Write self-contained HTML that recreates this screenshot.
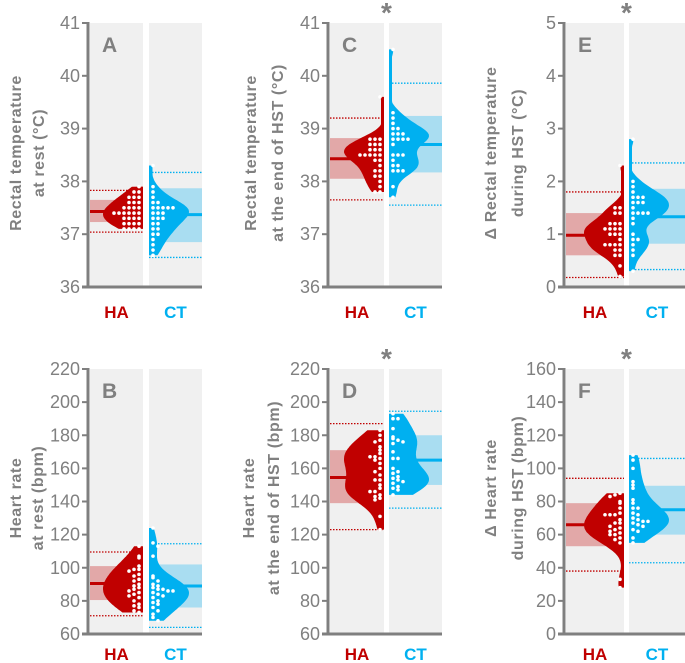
<!DOCTYPE html>
<html><head><meta charset="utf-8">
<style>
html,body{margin:0;padding:0;background:#fff;}
svg{display:block;font-family:"Liberation Sans",sans-serif;}
</style></head>
<body>
<svg id="chart" width="685" height="663" viewBox="0 0 685 663" xmlns="http://www.w3.org/2000/svg"></svg>
<script>
// ---- data ----
const haA=[37.9,37.8,37.8,37.7,37.7,37.7,37.6,37.6,37.6,37.5,37.5,37.5,37.5,37.4,37.4,37.4,37.4,37.4,37.4,37.3,37.3,37.3,37.3,37.2,37.2,37.2,37.2,37.1,37.1,37.1,37.1];
const ctA=[38.3,37.9,37.8,37.7,37.6,37.6,37.5,37.5,37.5,37.5,37.5,37.4,37.4,37.4,37.3,37.3,37.3,37.2,37.2,37.1,37.1,37.0,37.0,36.9,36.8,36.7,36.6];
const haC=[39.6,38.8,38.8,38.8,38.7,38.7,38.7,38.6,38.6,38.6,38.5,38.5,38.5,38.5,38.5,38.4,38.4,38.3,38.2,38.2,38.1,38.1,38.0,37.9,37.8,37.8];
const ctC=[40.5,39.3,39.2,39.1,39.0,39.0,38.9,38.9,38.9,38.8,38.8,38.8,38.8,38.7,38.5,38.5,38.5,38.4,38.3,38.3,38.2,38.2,38.2,37.9,37.7];
const haE=[2.3,1.5,1.5,1.4,1.4,1.2,1.2,1.2,1.1,1.1,1.1,1.1,1.0,1.0,1.0,0.9,0.8,0.8,0.8,0.8,0.7,0.7,0.6,0.6,0.4,0.2];
const ctE=[2.8,2.0,1.9,1.8,1.7,1.7,1.7,1.6,1.6,1.6,1.5,1.4,1.4,1.4,1.4,1.3,1.2,1.0,0.9,0.9,0.8,0.7,0.6,0.3];
const haB=[113,107,106,101,99,99,98,96,95,93,92,90,89,88,87,86,85,84,83,82,80,78,77,76,74,73];
const ctB=[124,115,113,107,95,94,92,90,89,88,87,87,86,86,85,84,83,82,80,79,78,76,74,72,70,68];
const haD=[183,180,177,176,173,171,169,167,167,166,165,163,160,158,156,153,153,150,148,146,146,144,143,142,141,131,123];
const ctD=[193,190,190,184,179,178,177,176,175,170,166,166,160,158,157,155,154,153,152,151,149,148,147,144];
const haF=[85,84,83,80,79,76,73,72,72,72,69,67,67,65,64,63,62,61,60,60,58,57,55,33,28];
const ctF=[108,105,100,92,90,88,81,79,76,76,73,72,70,69,68,68,67,66,65,63,62,58,55];
// stats: [mean, sdLow, sdHigh, rangeLow, rangeHigh]
const haStatsA=[37.43,37.23,37.65,37.04,37.83], ctStatsA=[37.37,36.85,37.87,36.56,38.17];
const haStatsC=[38.43,38.05,38.82,37.65,39.2], ctStatsC=[38.7,38.17,39.24,37.55,39.86];
const haStatsE=[0.98,0.6,1.4,0.18,1.8], ctStatsE=[1.33,0.82,1.86,0.33,2.35];
const haStatsB=[90.5,80.5,101,71,109.5], ctStatsB=[89,76,102,64,114.5];
const haStatsD=[154.5,139,171,123,187], ctStatsD=[165,150,180,136,194.5];
const haStatsF=[66,53,79,38,94], ctStatsF=[75,60,89.5,43,106];
const ticksTemp=[36,37,38,39,40,41];
const ticksDelta=[0,1,2,3,4,5];
const ticksHR=[60,80,100,120,140,160,180,200,220];
const ticksDHR=[0,20,40,60,80,100,120,140,160];

const NS="http://www.w3.org/2000/svg";
const svg=document.getElementById('chart');
function mk(tag,attrs,parent){const e=document.createElementNS(NS,tag);for(const k in attrs)e.setAttribute(k,attrs[k]);(parent||svg).appendChild(e);return e;}
const GREY="#808080", RED="#c00000", BLUE="#00b0f0";

const panels=[
 {id:'a',letter:'A',ax:88,ha:[90,143],ct:[149,202],y0:287,y1:23,ticks:ticksTemp,hv:haA,cv:ctA,hs:haStatsA,cs:ctStatsA,bin:0.1,bw:0.16,t1:'Rectal temperature',t2:'at rest  (°C)',tx:[15,38],ty:153,star:false,lab:313},
 {id:'c',letter:'C',ax:328,ha:[330,384],ct:[389,442],y0:287,y1:23,ticks:ticksTemp,hv:haC,cv:ctC,hs:haStatsC,cs:ctStatsC,bin:0.1,bw:0.16,t1:'Rectal temperature',t2:'at the end of HST  (°C)',tx:[250,277],ty:153,star:true,lab:313},
 {id:'e',letter:'E',ax:564,ha:[566,624],ct:[629,685],y0:287,y1:23,ticks:ticksDelta,hv:haE,cv:ctE,hs:haStatsE,cs:ctStatsE,bin:0.1,bw:0.16,t1:'Δ Rectal temperature',t2:'during HST (°C)',tx:[490,517],ty:153,star:true,lab:313},
 {id:'b',letter:'B',ax:88,ha:[90,143],ct:[149,202],y0:634,y1:369,ticks:ticksHR,hv:haB,cv:ctB,hs:haStatsB,cs:ctStatsB,bin:3,bw:7,t1:'Heart rate',t2:'at rest  (bpm)',tx:[15,37],ty:498,star:false,lab:655},
 {id:'d',letter:'D',ax:328,ha:[330,384],ct:[389,442],y0:634,y1:369,ticks:ticksHR,hv:haD,cv:ctD,hs:haStatsD,cs:ctStatsD,bin:3,bw:7,t1:'Heart rate',t2:'at the end of HST (bpm)',tx:[248,273],ty:498,star:true,lab:655},
 {id:'f',letter:'F',ax:564,ha:[566,624],ct:[629,685],y0:634,y1:369,ticks:ticksDHR,hv:haF,cv:ctF,hs:haStatsF,cs:ctStatsF,bin:3,bw:7,t1:'Δ Heart rate',t2:'during HST (bpm)',tx:[490,517],ty:488,star:true,lab:655}
];

function kde(vals,bw,v){let s=0;for(const x of vals){const z=(v-x)/bw;s+=Math.exp(-0.5*z*z);}return s;}

panels.forEach(p=>{
  const g=mk('g',{});
  
  
  const lo=p.ticks[0], hi=p.ticks[p.ticks.length-1];
  const Y=v=>p.y0+(v-lo)/(hi-lo)*(p.y1-p.y0);
  const bh=mk('rect',{x:p.ha[0],y:p.y1,width:p.ha[1]-p.ha[0],height:p.y0-p.y1,fill:'#f0f0f0'},g);
  
  
  const bc=mk('rect',{x:p.ct[0],y:p.y1,width:p.ct[1]-p.ct[0],height:p.y0-p.y1,fill:'#f0f0f0'},g);
  
  
  [['ha',p.ha,p.hs,p.hv,RED,'#e2a8a8',-1],['ct',p.ct,p.cs,p.cv,BLUE,'#a9ddf1',1]].forEach(([nm,col,st,vals,c,band,dir])=>{
    const sd=mk('rect',{x:col[0],y:Y(st[2]),width:col[1]-col[0],height:Y(st[1])-Y(st[2]),fill:band},g);
    
    
    [st[3],st[4]].forEach((r,i)=>{
      const l=mk('line',{x1:col[0],x2:col[1],y1:Y(r),y2:Y(r),stroke:c,'stroke-width':1.3,'stroke-dasharray':'1.5,1.5'},g);
      
      
    });
    const m=mk('line',{x1:col[0],x2:col[1],y1:Y(st[0]),y2:Y(st[0]),stroke:c,'stroke-width':3},g);
    
    
    const vmin=Math.min(...vals), vmax=Math.max(...vals);
    const N=80; const dens=[]; let dmax=0;
    for(let i=0;i<=N;i++){const v=vmin+(vmax-vmin)*i/N;const d=kde(vals,p.bw,v);dens.push([v,d]);if(d>dmax)dmax=d;}
    const maxW=40;
    const edge=dir<0?col[1]:col[0];
    let d='M'+edge+','+Y(vmin);
    dens.forEach(([v,dd])=>{d+=' L'+(edge+dir*Math.max(3,dd/dmax*maxW)).toFixed(1)+','+Y(v).toFixed(1);});
    d+=' L'+edge+','+Y(vmax)+' Z';
    const vp=mk('path',{d:d,fill:c},g);
    
    
    const counts={};
    vals.forEach(v=>{
      const k=Math.round(v/p.bin);
      const n=counts[k]||0; counts[k]=n+1;
      const cx=edge+dir*(4+n*5);
      const dot=mk('circle',{cx:cx,cy:Y(v),r:1.8,fill:'#fff'},g);
      
      
    });
    const lb=mk('text',{x:(col[0]+col[1])/2,y:p.lab+5,'text-anchor':'middle','font-size':17,'font-weight':'bold',fill:c},g);
    lb.textContent=nm.toUpperCase();
    
    
  });
  const ya=mk('line',{x1:p.ax,x2:p.ax,y1:p.y1-1,y2:p.y0+1,stroke:'#7f7f7f','stroke-width':3},g);
  
  
  const xa=mk('line',{x1:p.ax-6,x2:p.ct[1],y1:p.y0,y2:p.y0,stroke:'#7f7f7f','stroke-width':3},g);
  
  
  p.ticks.forEach(t=>{
    const tk=mk('line',{x1:p.ax-6,x2:p.ax,y1:Y(t),y2:Y(t),stroke:'#7f7f7f','stroke-width':2},g);
    
    
    const tl=mk('text',{x:p.ax-8,y:Y(t)+6,'text-anchor':'end','font-size':18,fill:GREY},g);
    tl.textContent=t;
    
    
  });
  const le=mk('text',{x:p.ax+14,y:p.y1+29,'font-size':21,'font-weight':'bold',fill:GREY},g);
  le.textContent=p.letter;
  
  
  [p.t1,p.t2].forEach((t,i)=>{
    const tt=mk('text',{x:0,y:0,transform:'translate('+(p.tx[i]+6)+','+p.ty+') rotate(-90)','text-anchor':'middle','font-size':16,'font-weight':'bold','letter-spacing':'0.6',fill:GREY},g);
    tt.textContent=t;
    
    
  });
  if(p.star){
    const s=mk('text',{x:(p.ha[1]+p.ct[0])/2,y:p.y1-1,'text-anchor':'middle','font-size':28,'font-weight':'bold',fill:GREY},g);
    s.textContent='*';
    
    
  }
});
</script>
</body></html>
